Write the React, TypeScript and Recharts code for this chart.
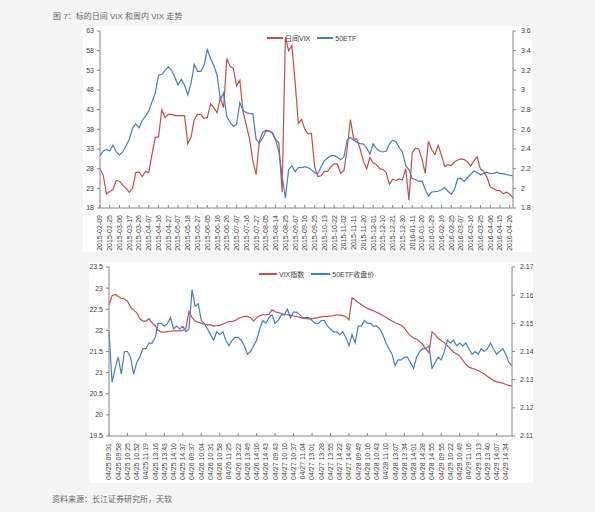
import React from 'react';
import { LineChart, Line, XAxis, YAxis } from 'recharts';

// 上图：日间 VIX 与 50ETF（每个刻度区间 3 个采样点）
const dailyDates = [
    '2015-02-09', '2015-02-25', '2015-03-06', '2015-03-17', '2015-03-26', '2015-04-07', '2015-04-16',
    '2015-04-27', '2015-05-07', '2015-05-18', '2015-05-27', '2015-06-05', '2015-06-16', '2015-06-26',
    '2015-07-07', '2015-07-16', '2015-07-27', '2015-08-05', '2015-08-14', '2015-08-25', '2015-09-07',
    '2015-09-16', '2015-09-25', '2015-10-13', '2015-10-22', '2015-11-02', '2015-11-11', '2015-11-20',
    '2015-12-01', '2015-12-10', '2015-12-21', '2015-12-30', '2016-01-11', '2016-01-20', '2016-01-29',
    '2016-02-16', '2016-02-25', '2016-03-07', '2016-03-16', '2016-03-25', '2016-04-06', '2016-04-15',
    '2016-04-26',
];

const dailyVix = [
    28, 26.3, 21.6, 22.2, 22.7, 25, 24.8, 23.8, 23, 22,
    23, 27, 27.2, 26, 27.3, 27, 31.7, 36, 36, 43,
    41, 41.8, 41.8, 41.5, 41.5, 41.5, 41.5, 34.3, 36, 40.5,
    41.8, 41.8, 40.8, 41, 44.5, 43.5, 42.2, 46, 43.5, 56,
    54, 53.5, 49, 50.5, 42.5, 39, 35.5, 30, 26.5, 35,
    37.2, 37.8, 37.5, 37.2, 35.5, 34.5, 22, 61.5, 58, 59.3,
    50, 39.5, 40.5, 38, 36.8, 37, 28.5, 26, 26.2, 27.3,
    27.3, 28.5, 29.2, 29.2, 26.8, 27.5, 33, 40.5, 35.5, 35.5,
    33, 29.9, 28, 30.8, 29.5, 29, 28, 27.8, 27, 24,
    25.3, 25, 25.4, 25.1, 28, 20, 32, 33.2, 33, 30.5,
    26.8, 35, 32.8, 31.6, 33.9, 31.4, 28.5, 29, 28.8, 29.7,
    30.2, 30.5, 30.3, 29.7, 28.7, 30, 31, 27.9, 27.3, 25.8,
    23.4, 22.9, 22.5, 22.4, 21.6, 22, 21.5, 20.5,
];

const dailyEtf = [
    2.33, 2.38, 2.395, 2.38, 2.44, 2.37, 2.34, 2.37, 2.43, 2.5,
    2.61, 2.655, 2.615, 2.69, 2.735, 2.79, 2.88, 2.97, 3.15, 3.16,
    3.2, 3.235, 3.2, 3.13, 3.05, 3.11, 3.05, 2.95, 3.07, 3.26,
    3.19, 3.19, 3.25, 3.41, 3.32, 3.25, 3.15, 2.9, 2.97, 2.73,
    2.67, 2.63, 2.65, 2.87, 2.79, 2.77, 2.76, 2.76, 2.5, 2.46,
    2.51, 2.58, 2.585, 2.56, 2.49, 2.37, 2.13, 1.9, 2.19, 2.23,
    2.17, 2.21, 2.21, 2.22, 2.21, 2.19, 2.16, 2.15, 2.22, 2.28,
    2.31, 2.33, 2.335, 2.315, 2.29, 2.32, 2.49, 2.52, 2.49, 2.47,
    2.455, 2.45, 2.41, 2.35, 2.455, 2.405, 2.38, 2.37, 2.38, 2.45,
    2.49, 2.475, 2.415, 2.37, 2.23, 2.19, 2.1, 2.09, 2.07, 2.075,
    1.99, 1.92, 1.963, 1.966, 1.97, 1.985, 2.005, 1.97, 1.94, 1.99,
    2.1, 2.098, 2.07, 2.11, 2.143, 2.176, 2.16, 2.137, 2.153, 2.164,
    2.15, 2.152, 2.165, 2.15, 2.15, 2.14, 2.133, 2.126,
];

const dailyVixTicks = [18, 23, 28, 33, 38, 43, 48, 53, 58, 63];
const dailyEtfTicks = [1.8, 2, 2.2, 2.4, 2.6, 2.8, 3, 3.2, 3.4, 3.6];

// 下图：周内 VIX 指数与 50ETF 收盘价
const intradayTimes = [
    '04/25 09:31', '04/25 09:58', '04/25 10:25', '04/25 10:52', '04/25 11:19', '04/25 13:16',
    '04/25 13:43', '04/25 14:10', '04/25 14:37', '04/26 09:37', '04/26 10:04', '04/26 10:31',
    '04/26 10:58', '04/26 11:25', '04/26 13:22', '04/26 13:49', '04/26 14:16', '04/26 14:43',
    '04/27 09:43', '04/27 10:10', '04/27 10:37', '04/27 11:04', '04/27 13:01', '04/27 13:28',
    '04/27 13:55', '04/27 14:22', '04/27 14:49', '04/28 09:49', '04/28 10:16', '04/28 10:43',
    '04/28 11:10', '04/28 13:07', '04/28 13:34', '04/28 14:01', '04/28 14:28', '04/28 14:55',
    '04/29 09:55', '04/29 10:22', '04/29 10:49', '04/29 11:16', '04/29 13:13', '04/29 13:40',
    '04/29 14:07', '04/29 14:34',
];

const intradayVix = [
    22.6, 22.82, 22.85, 22.8, 22.76, 22.74, 22.69, 22.55, 22.48, 22.42,
    22.28, 22.22, 22.22, 22.28, 22.18, 22.11, 22.0, 21.96, 21.96, 21.97,
    21.98, 21.99, 21.99, 21.99, 22.0, 22.04, 22.45, 22.3, 22.22, 22.19,
    22.17, 22.14, 22.13, 22.13, 22.1, 22.11, 22.12, 22.15, 22.18, 22.21,
    22.21, 22.23, 22.28, 22.31, 22.33, 22.33, 22.3, 22.22, 22.3, 22.35,
    22.37, 22.37, 22.38, 22.49, 22.44, 22.42, 22.4, 22.38, 22.37, 22.36,
    22.34, 22.33, 22.31, 22.29, 22.28, 22.27, 22.28, 22.29, 22.3, 22.32,
    22.33, 22.33, 22.34, 22.35, 22.37, 22.36, 22.35, 22.33, 22.25, 22.77,
    22.72, 22.66, 22.61, 22.56, 22.52, 22.49, 22.46, 22.43, 22.39, 22.35,
    22.31, 22.26, 22.22, 22.18, 22.15, 22.12, 22.06, 21.95, 21.87, 21.82,
    21.79, 21.74, 21.66, 21.56, 21.47, 21.97, 21.9, 21.81, 21.76, 21.71,
    21.64, 21.56, 21.49, 21.44, 21.39, 21.29, 21.2, 21.13, 21.1, 21.08,
    21.05, 21.01, 20.97, 20.91, 20.87, 20.81, 20.78, 20.77, 20.75, 20.72,
    20.7, 20.68,
];

const intradayEtf = [
    2.147, 2.129, 2.134, 2.138, 2.132, 2.14, 2.14, 2.138, 2.132, 2.136,
    2.138, 2.141, 2.141, 2.143, 2.143, 2.145, 2.15, 2.15, 2.149, 2.15,
    2.152, 2.148, 2.149, 2.148, 2.149, 2.147, 2.148, 2.162, 2.156, 2.157,
    2.151, 2.15, 2.148, 2.146, 2.144, 2.147, 2.146, 2.147, 2.144, 2.142,
    2.144, 2.145, 2.145, 2.144, 2.142, 2.139, 2.14, 2.142, 2.144, 2.148,
    2.151, 2.15, 2.152, 2.153, 2.15, 2.151, 2.153, 2.153, 2.155, 2.152,
    2.154, 2.154, 2.153, 2.152, 2.152, 2.152, 2.151, 2.15, 2.15, 2.151,
    2.151, 2.149, 2.148, 2.147, 2.147, 2.146, 2.147, 2.145, 2.142, 2.146,
    2.143, 2.149, 2.149, 2.151, 2.15, 2.15, 2.149, 2.149, 2.148, 2.146,
    2.143, 2.141, 2.139, 2.135, 2.137, 2.137, 2.138, 2.138, 2.136, 2.134,
    2.138, 2.14, 2.141, 2.141, 2.142, 2.134, 2.136, 2.138, 2.137, 2.14,
    2.144, 2.143, 2.144, 2.142, 2.143, 2.142, 2.143, 2.141, 2.139, 2.14,
    2.139, 2.141, 2.14, 2.141, 2.143, 2.141, 2.139, 2.14, 2.141, 2.139,
    2.136, 2.135,
];

const intradayVixTicks = [19.5, 20, 20.5, 21, 21.5, 22, 22.5, 23, 23.5];
const intradayEtfTicks = [2.11, 2.12, 2.13, 2.14, 2.15, 2.16, 2.17];

const STEP = 3; // 每个标签之间的采样点数
const RED = '#C0504D';
const BLUE = '#4A7EBB';
const AXIS = '#868686';
const TEXT = '#404040';
const FONT = '"Liberation Sans", Arial, "Noto Sans CJK SC", sans-serif';

const dailyData = dailyVix.map((v, i) => ({ i, vix: v, etf: dailyEtf[i] }));
const intradayData = intradayVix.map((v, i) => ({ i, vix: v, etf: intradayEtf[i] }));

const XTick = ({ x, y, payload, labels, markEvery }: any) => {
    const k = Math.round(payload.value / STEP);
    return (
        <g>
            {k % markEvery === 0 && <line x1={x} x2={x} y1={y - 7} y2={y - 10} stroke={AXIS} />}
            <text
                x={x}
                y={y}
                transform={`rotate(-90 ${x} ${y})`}
                textAnchor="end"
                dy="0.35em"
                fontSize={7}
                fill={TEXT}
                fontFamily={FONT}
            >
                {labels[k]}
            </text>
        </g>
    );
};

const LegendItem = ({ color, label, width }: { color: string; label: string; width: number }) => (
    <span style={{ display: 'inline-flex', alignItems: 'center', marginRight: 7 }}>
        <span style={{ display: 'inline-block', width, height: 1.5, background: color, marginRight: 2 }} />
        <span>{label}</span>
    </span>
);

const tickStyle = { fontSize: 7, fill: TEXT, fontFamily: FONT };

const App: React.FC = () => {
    return (
        <div
            style={{
                position: 'absolute', left: 0, top: 0, width: 595, height: 512,
                background: '#f5f5f5', fontFamily: FONT, color: TEXT,
            }}
        >
            <div style={{ position: 'absolute', left: 53, top: 10, fontSize: 8, color: '#666' }}>
                图 7：标的日间 VIX 和周内 VIX 走势
            </div>

            <div style={{ position: 'absolute', left: 83, top: 26, width: 449, height: 226, background: '#fff' }}>
                <LineChart width={449} height={226} data={dailyData} margin={{ top: 5, right: 0, bottom: 0, left: 0 }}>
                    <XAxis
                        dataKey="i"
                        type="number"
                        domain={[0, 127]}
                        ticks={dailyDates.map((_, k) => k * STEP)}
                        interval={0}
                        height={44}
                        stroke={AXIS}
                        tickLine={false}
                        tickSize={0}
                        tickMargin={7}
                        tick={(p: any) => <XTick {...p} labels={dailyDates} markEvery={1} />}
                    />
                    <YAxis
                        yAxisId="left"
                        domain={[18, 63]}
                        ticks={dailyVixTicks}
                        interval={0}
                        width={17}
                        stroke={AXIS}
                        tickSize={3}
                        tickMargin={3}
                        tick={tickStyle}
                    />
                    <YAxis
                        yAxisId="right"
                        orientation="right"
                        domain={[1.8, 3.6]}
                        ticks={dailyEtfTicks}
                        interval={0}
                        width={19}
                        stroke={AXIS}
                        tickSize={3}
                        tickMargin={5}
                        tick={{ ...tickStyle, textAnchor: 'start' }}
                    />
                    <Line yAxisId="left" type="linear" dataKey="vix" stroke={RED} strokeWidth={1.2} dot={false} isAnimationActive={false} />
                    <Line yAxisId="right" type="linear" dataKey="etf" stroke={BLUE} strokeWidth={1.2} dot={false} isAnimationActive={false} />
                </LineChart>
                <div style={{ position: 'absolute', left: 184, top: 7, fontSize: 7, display: 'flex', whiteSpace: 'nowrap' }}>
                    <LegendItem color={RED} label="日间VIX" width={16} />
                    <LegendItem color={BLUE} label="50ETF" width={16} />
                </div>
            </div>

            <div style={{ position: 'absolute', left: 89, top: 262, width: 444, height: 221, background: '#fff' }}>
                <LineChart width={444} height={221} data={intradayData} margin={{ top: 5, right: 0, bottom: 0, left: 0 }}>
                    <XAxis
                        dataKey="i"
                        type="number"
                        domain={[0, 131]}
                        ticks={intradayTimes.map((_, k) => k * STEP)}
                        interval={0}
                        height={47}
                        stroke={AXIS}
                        tickLine={false}
                        tickSize={0}
                        tickMargin={7}
                        tick={(p: any) => <XTick {...p} labels={intradayTimes} markEvery={2} />}
                    />
                    <YAxis
                        yAxisId="left"
                        domain={[19.5, 23.5]}
                        ticks={intradayVixTicks}
                        interval={0}
                        width={20}
                        stroke={AXIS}
                        tickSize={3}
                        tickMargin={3}
                        tick={tickStyle}
                    />
                    <YAxis
                        yAxisId="right"
                        orientation="right"
                        domain={[2.11, 2.17]}
                        ticks={intradayEtfTicks}
                        interval={0}
                        width={21}
                        stroke={AXIS}
                        tickSize={3}
                        tickMargin={5}
                        tick={{ ...tickStyle, textAnchor: 'start' }}
                    />
                    <Line yAxisId="left" type="linear" dataKey="vix" stroke={RED} strokeWidth={1.2} dot={false} isAnimationActive={false} />
                    <Line yAxisId="right" type="linear" dataKey="etf" stroke={BLUE} strokeWidth={1.2} dot={false} isAnimationActive={false} />
                </LineChart>
                <div style={{ position: 'absolute', left: 170, top: 7, fontSize: 7, display: 'flex', whiteSpace: 'nowrap' }}>
                    <LegendItem color={RED} label="VIX指数" width={18} />
                    <LegendItem color={BLUE} label="50ETF收盘价" width={19} />
                </div>
            </div>

            <div style={{ position: 'absolute', left: 52, top: 493, fontSize: 8, color: '#666' }}>
                资料来源：长江证券研究所，天软
            </div>
        </div>
    );
};

export default App;
